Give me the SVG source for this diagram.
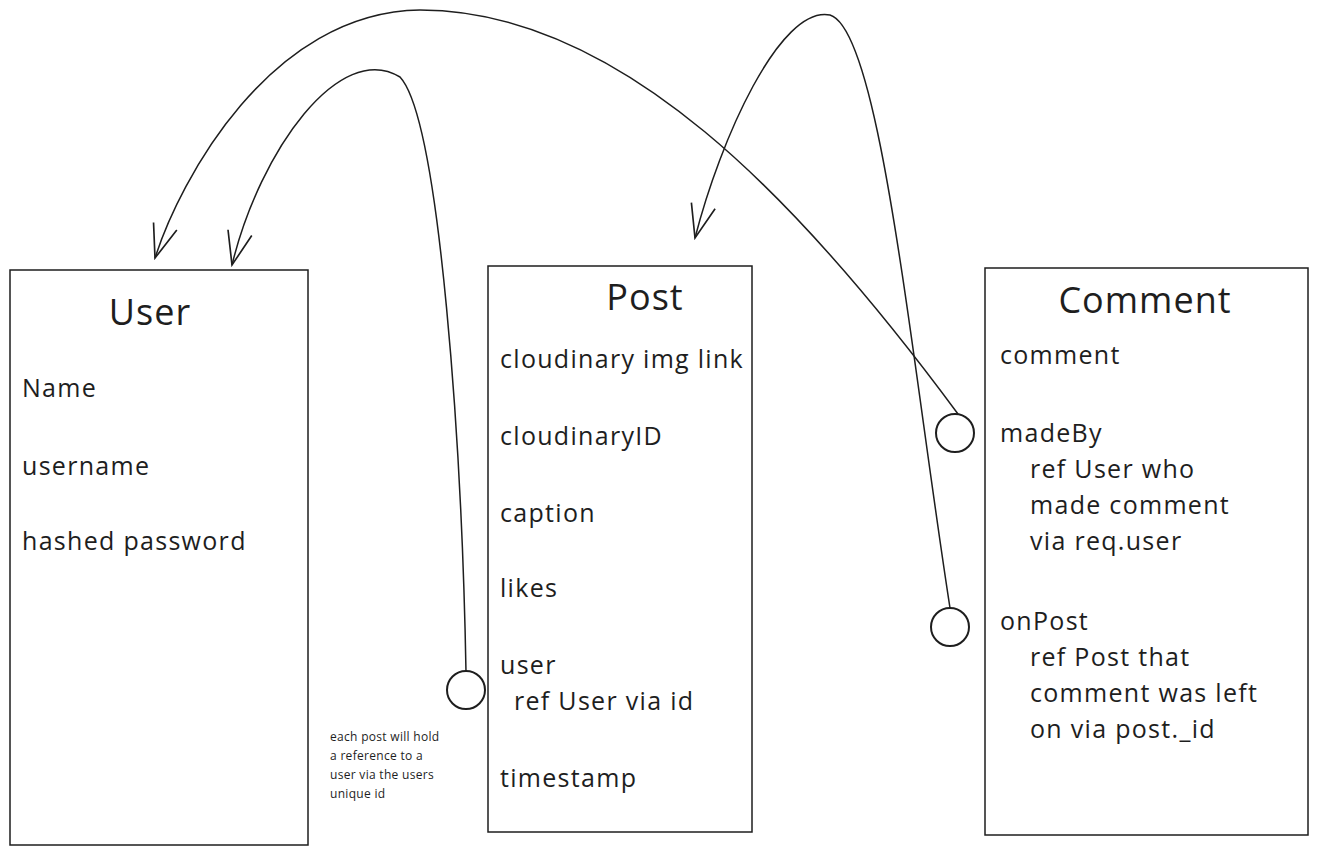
<svg xmlns="http://www.w3.org/2000/svg" width="1318" height="852" viewBox="0 0 1318 852">
<style>
.box{fill:#fff;stroke:#1e1e1e;stroke-width:1.5}
.t{font-family:"Open Sans","DejaVu Sans",sans-serif;fill:#1e1e1e}
.h{font-size:36px;letter-spacing:1px}
.i{font-size:25px;letter-spacing:1.3px}
.s{font-size:12px;letter-spacing:0.3px}
.c{fill:none;stroke:#1e1e1e;stroke-width:1.5}
.e{fill:none;stroke:#1e1e1e;stroke-width:2}
</style>
<defs><marker id="a" markerWidth="40" markerHeight="40" refX="0" refY="0" viewBox="-32 -14 36 28" orient="auto" markerUnits="userSpaceOnUse"><path d="M-30,-11 L0,0 L-30,11" fill="none" stroke="#1e1e1e" stroke-width="1.5"/></marker></defs>
<g id="user"><rect class="box" x="10" y="270" width="298" height="575"/>
<text class="t h" x="150" y="325" text-anchor="middle">User</text>
<text class="t i" x="22" y="397">Name</text>
<text class="t i" x="22" y="475">username</text>
<text class="t i" x="22" y="550">hashed password</text></g>
<g id="post"><rect class="box" x="488" y="266" width="264" height="566"/>
<text class="t h" x="645" y="310" text-anchor="middle">Post</text>
<text class="t i" x="500" y="368">cloudinary img link</text>
<text class="t i" x="500" y="445">cloudinaryID</text>
<text class="t i" x="500" y="522">caption</text>
<text class="t i" x="500" y="597">likes</text>
<text class="t i" x="500" y="674">user</text>
<text class="t i" x="514" y="710">ref User via id</text>
<text class="t i" x="500" y="787">timestamp</text></g>
<g id="comment"><rect class="box" x="985" y="268" width="323" height="567"/>
<text class="t h" x="1145" y="313" text-anchor="middle">Comment</text>
<text class="t i" x="1000" y="364">comment</text>
<text class="t i" x="1000" y="442">madeBy</text>
<text class="t i" x="1030" y="478">ref User who</text>
<text class="t i" x="1030" y="514">made comment</text>
<text class="t i" x="1030" y="550">via req.user</text>
<text class="t i" x="1000" y="630">onPost</text>
<text class="t i" x="1030" y="666">ref Post that</text>
<text class="t i" x="1030" y="702">comment was left</text>
<text class="t i" x="1030" y="738">on via post._id</text></g>
<g id="note"><text class="t s" x="330" y="741">each post will hold</text>
<text class="t s" x="330" y="760">a reference to a</text>
<text class="t s" x="330" y="779">user via the users</text>
<text class="t s" x="330" y="798">unique id</text></g>
<g id="connectors">
<circle class="e" cx="466" cy="690" r="19"/>
<circle class="e" cx="955" cy="433" r="19"/>
<circle class="e" cx="950" cy="627" r="19"/>
<path class="c" marker-end="url(#a)" d="M466,672 C462,450 440,120 400,77 C340,40 260,150 232,265"/>
<path class="c" marker-end="url(#a)" d="M958,414 C800,200 620,10 420,10 C270,12 180,180 155,258"/>
<path class="c" marker-end="url(#a)" d="M950,608 C910,350 880,30 830,15 C780,5 720,140 695,238"/>
</g>
</svg>
